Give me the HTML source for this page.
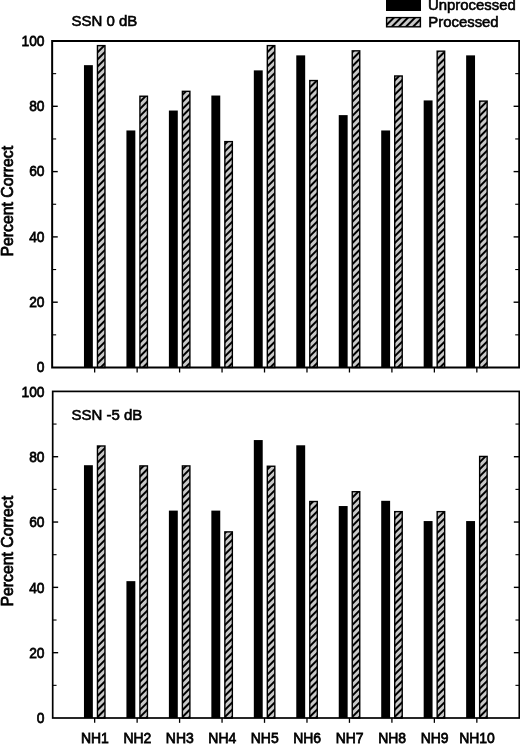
<!DOCTYPE html><html><head><meta charset="utf-8"><title>Percent Correct</title>
<style>html,body{margin:0;padding:0;background:#fff;}svg{display:block;}text{font-family:"Liberation Sans", Arial, Helvetica, sans-serif;fill:#000;stroke:#000;stroke-width:0.6px;}</style></head><body>
<svg width="520" height="744" viewBox="0 0 520 744">
<defs><pattern id="h" patternUnits="userSpaceOnUse" width="5" height="5" patternTransform="rotate(45)"><rect width="5" height="5" fill="#c8c8c8"/><rect x="0" y="0" width="2.0" height="5" fill="#000"/></pattern></defs>
<rect width="520" height="744" fill="#fff"/>
<rect x="83.96" y="65.16" width="8.90" height="302.34" fill="#000"/>
<rect x="97.46" y="45.62" width="7.50" height="321.88" fill="url(#h)" stroke="#000" stroke-width="1.4"/>
<rect x="126.43" y="130.46" width="8.90" height="237.04" fill="#000"/>
<rect x="139.93" y="96.23" width="7.50" height="271.27" fill="url(#h)" stroke="#000" stroke-width="1.4"/>
<rect x="168.89" y="110.54" width="8.90" height="256.96" fill="#000"/>
<rect x="182.39" y="91.33" width="7.50" height="276.17" fill="url(#h)" stroke="#000" stroke-width="1.4"/>
<rect x="211.35" y="95.53" width="8.90" height="271.97" fill="#000"/>
<rect x="224.85" y="141.61" width="7.50" height="225.89" fill="url(#h)" stroke="#000" stroke-width="1.4"/>
<rect x="253.82" y="70.38" width="8.90" height="297.12" fill="#000"/>
<rect x="267.32" y="45.62" width="7.50" height="321.88" fill="url(#h)" stroke="#000" stroke-width="1.4"/>
<rect x="296.28" y="55.37" width="8.90" height="312.13" fill="#000"/>
<rect x="309.78" y="80.55" width="7.50" height="286.95" fill="url(#h)" stroke="#000" stroke-width="1.4"/>
<rect x="338.75" y="115.12" width="8.90" height="252.38" fill="#000"/>
<rect x="352.25" y="50.84" width="7.50" height="316.66" fill="url(#h)" stroke="#000" stroke-width="1.4"/>
<rect x="381.21" y="130.46" width="8.90" height="237.04" fill="#000"/>
<rect x="394.71" y="75.98" width="7.50" height="291.52" fill="url(#h)" stroke="#000" stroke-width="1.4"/>
<rect x="423.67" y="100.42" width="8.90" height="267.08" fill="#000"/>
<rect x="437.17" y="51.17" width="7.50" height="316.33" fill="url(#h)" stroke="#000" stroke-width="1.4"/>
<rect x="466.14" y="55.37" width="8.90" height="312.13" fill="#000"/>
<rect x="479.64" y="101.12" width="7.50" height="266.38" fill="url(#h)" stroke="#000" stroke-width="1.4"/>
<rect x="52.15" y="41.00" width="467.05" height="326.50" fill="none" stroke="#000" stroke-width="2.00"/>
<line x1="52.15" y1="334.85" x2="56.15" y2="334.85" stroke="#000" stroke-width="1.10"/>
<line x1="519.20" y1="334.85" x2="515.20" y2="334.85" stroke="#000" stroke-width="1.10"/>
<line x1="52.15" y1="302.20" x2="57.75" y2="302.20" stroke="#000" stroke-width="1.40"/>
<line x1="519.20" y1="302.20" x2="513.60" y2="302.20" stroke="#000" stroke-width="1.40"/>
<line x1="52.15" y1="269.55" x2="56.15" y2="269.55" stroke="#000" stroke-width="1.10"/>
<line x1="519.20" y1="269.55" x2="515.20" y2="269.55" stroke="#000" stroke-width="1.10"/>
<line x1="52.15" y1="236.90" x2="57.75" y2="236.90" stroke="#000" stroke-width="1.40"/>
<line x1="519.20" y1="236.90" x2="513.60" y2="236.90" stroke="#000" stroke-width="1.40"/>
<line x1="52.15" y1="204.25" x2="56.15" y2="204.25" stroke="#000" stroke-width="1.10"/>
<line x1="519.20" y1="204.25" x2="515.20" y2="204.25" stroke="#000" stroke-width="1.10"/>
<line x1="52.15" y1="171.60" x2="57.75" y2="171.60" stroke="#000" stroke-width="1.40"/>
<line x1="519.20" y1="171.60" x2="513.60" y2="171.60" stroke="#000" stroke-width="1.40"/>
<line x1="52.15" y1="138.95" x2="56.15" y2="138.95" stroke="#000" stroke-width="1.10"/>
<line x1="519.20" y1="138.95" x2="515.20" y2="138.95" stroke="#000" stroke-width="1.10"/>
<line x1="52.15" y1="106.30" x2="57.75" y2="106.30" stroke="#000" stroke-width="1.40"/>
<line x1="519.20" y1="106.30" x2="513.60" y2="106.30" stroke="#000" stroke-width="1.40"/>
<line x1="52.15" y1="73.65" x2="56.15" y2="73.65" stroke="#000" stroke-width="1.10"/>
<line x1="519.20" y1="73.65" x2="515.20" y2="73.65" stroke="#000" stroke-width="1.10"/>
<line x1="94.66" y1="367.50" x2="94.66" y2="372.50" stroke="#000" stroke-width="1.3"/>
<line x1="137.13" y1="367.50" x2="137.13" y2="372.50" stroke="#000" stroke-width="1.3"/>
<line x1="179.59" y1="367.50" x2="179.59" y2="372.50" stroke="#000" stroke-width="1.3"/>
<line x1="222.05" y1="367.50" x2="222.05" y2="372.50" stroke="#000" stroke-width="1.3"/>
<line x1="264.52" y1="367.50" x2="264.52" y2="372.50" stroke="#000" stroke-width="1.3"/>
<line x1="306.98" y1="367.50" x2="306.98" y2="372.50" stroke="#000" stroke-width="1.3"/>
<line x1="349.45" y1="367.50" x2="349.45" y2="372.50" stroke="#000" stroke-width="1.3"/>
<line x1="391.91" y1="367.50" x2="391.91" y2="372.50" stroke="#000" stroke-width="1.3"/>
<line x1="434.37" y1="367.50" x2="434.37" y2="372.50" stroke="#000" stroke-width="1.3"/>
<line x1="476.84" y1="367.50" x2="476.84" y2="372.50" stroke="#000" stroke-width="1.3"/>
<text font-size="15" text-anchor="end" style="stroke-width:0.75px" transform="translate(44.5 372.10) scale(0.92 1.03)">0</text>
<text font-size="15" text-anchor="end" style="stroke-width:0.75px" transform="translate(44.5 306.80) scale(0.92 1.03)">20</text>
<text font-size="15" text-anchor="end" style="stroke-width:0.75px" transform="translate(44.5 241.50) scale(0.92 1.03)">40</text>
<text font-size="15" text-anchor="end" style="stroke-width:0.75px" transform="translate(44.5 176.20) scale(0.92 1.03)">60</text>
<text font-size="15" text-anchor="end" style="stroke-width:0.75px" transform="translate(44.5 110.90) scale(0.92 1.03)">80</text>
<text font-size="15" text-anchor="end" style="stroke-width:0.75px" transform="translate(44.5 45.60) scale(0.92 1.03)">100</text>
<text x="71.4" y="26.30" font-size="15.0">SSN 0 dB</text>
<text x="0" y="0" font-size="15.8" text-anchor="middle" style="stroke-width:0.75px" transform="translate(12.7 201.20) rotate(-90)">Percent Correct</text>
<rect x="83.96" y="465.21" width="8.90" height="252.79" fill="#000"/>
<rect x="97.46" y="445.99" width="7.50" height="272.01" fill="url(#h)" stroke="#000" stroke-width="1.4"/>
<rect x="126.43" y="581.15" width="8.90" height="136.85" fill="#000"/>
<rect x="139.93" y="465.91" width="7.50" height="252.09" fill="url(#h)" stroke="#000" stroke-width="1.4"/>
<rect x="168.89" y="510.61" width="8.90" height="207.39" fill="#000"/>
<rect x="182.39" y="465.91" width="7.50" height="252.09" fill="url(#h)" stroke="#000" stroke-width="1.4"/>
<rect x="211.35" y="510.61" width="8.90" height="207.39" fill="#000"/>
<rect x="224.85" y="531.88" width="7.50" height="186.12" fill="url(#h)" stroke="#000" stroke-width="1.4"/>
<rect x="253.82" y="440.06" width="8.90" height="277.94" fill="#000"/>
<rect x="267.32" y="466.24" width="7.50" height="251.76" fill="url(#h)" stroke="#000" stroke-width="1.4"/>
<rect x="296.28" y="445.29" width="8.90" height="272.71" fill="#000"/>
<rect x="309.78" y="501.51" width="7.50" height="216.49" fill="url(#h)" stroke="#000" stroke-width="1.4"/>
<rect x="338.75" y="506.04" width="8.90" height="211.96" fill="#000"/>
<rect x="352.25" y="491.71" width="7.50" height="226.29" fill="url(#h)" stroke="#000" stroke-width="1.4"/>
<rect x="381.21" y="500.81" width="8.90" height="217.19" fill="#000"/>
<rect x="394.71" y="511.64" width="7.50" height="206.36" fill="url(#h)" stroke="#000" stroke-width="1.4"/>
<rect x="423.67" y="521.06" width="8.90" height="196.94" fill="#000"/>
<rect x="437.17" y="511.64" width="7.50" height="206.36" fill="url(#h)" stroke="#000" stroke-width="1.4"/>
<rect x="466.14" y="521.06" width="8.90" height="196.94" fill="#000"/>
<rect x="479.64" y="456.44" width="7.50" height="261.56" fill="url(#h)" stroke="#000" stroke-width="1.4"/>
<rect x="52.70" y="391.40" width="466.60" height="326.60" fill="none" stroke="#000" stroke-width="1.70"/>
<line x1="52.70" y1="685.34" x2="56.55" y2="685.34" stroke="#000" stroke-width="1.10"/>
<line x1="519.30" y1="685.34" x2="515.45" y2="685.34" stroke="#000" stroke-width="1.10"/>
<line x1="52.70" y1="652.68" x2="58.15" y2="652.68" stroke="#000" stroke-width="1.40"/>
<line x1="519.30" y1="652.68" x2="513.85" y2="652.68" stroke="#000" stroke-width="1.40"/>
<line x1="52.70" y1="620.02" x2="56.55" y2="620.02" stroke="#000" stroke-width="1.10"/>
<line x1="519.30" y1="620.02" x2="515.45" y2="620.02" stroke="#000" stroke-width="1.10"/>
<line x1="52.70" y1="587.36" x2="58.15" y2="587.36" stroke="#000" stroke-width="1.40"/>
<line x1="519.30" y1="587.36" x2="513.85" y2="587.36" stroke="#000" stroke-width="1.40"/>
<line x1="52.70" y1="554.70" x2="56.55" y2="554.70" stroke="#000" stroke-width="1.10"/>
<line x1="519.30" y1="554.70" x2="515.45" y2="554.70" stroke="#000" stroke-width="1.10"/>
<line x1="52.70" y1="522.04" x2="58.15" y2="522.04" stroke="#000" stroke-width="1.40"/>
<line x1="519.30" y1="522.04" x2="513.85" y2="522.04" stroke="#000" stroke-width="1.40"/>
<line x1="52.70" y1="489.38" x2="56.55" y2="489.38" stroke="#000" stroke-width="1.10"/>
<line x1="519.30" y1="489.38" x2="515.45" y2="489.38" stroke="#000" stroke-width="1.10"/>
<line x1="52.70" y1="456.72" x2="58.15" y2="456.72" stroke="#000" stroke-width="1.40"/>
<line x1="519.30" y1="456.72" x2="513.85" y2="456.72" stroke="#000" stroke-width="1.40"/>
<line x1="52.70" y1="424.06" x2="56.55" y2="424.06" stroke="#000" stroke-width="1.10"/>
<line x1="519.30" y1="424.06" x2="515.45" y2="424.06" stroke="#000" stroke-width="1.10"/>
<line x1="94.66" y1="718.00" x2="94.66" y2="722.85" stroke="#000" stroke-width="1.3"/>
<line x1="137.13" y1="718.00" x2="137.13" y2="722.85" stroke="#000" stroke-width="1.3"/>
<line x1="179.59" y1="718.00" x2="179.59" y2="722.85" stroke="#000" stroke-width="1.3"/>
<line x1="222.05" y1="718.00" x2="222.05" y2="722.85" stroke="#000" stroke-width="1.3"/>
<line x1="264.52" y1="718.00" x2="264.52" y2="722.85" stroke="#000" stroke-width="1.3"/>
<line x1="306.98" y1="718.00" x2="306.98" y2="722.85" stroke="#000" stroke-width="1.3"/>
<line x1="349.45" y1="718.00" x2="349.45" y2="722.85" stroke="#000" stroke-width="1.3"/>
<line x1="391.91" y1="718.00" x2="391.91" y2="722.85" stroke="#000" stroke-width="1.3"/>
<line x1="434.37" y1="718.00" x2="434.37" y2="722.85" stroke="#000" stroke-width="1.3"/>
<line x1="476.84" y1="718.00" x2="476.84" y2="722.85" stroke="#000" stroke-width="1.3"/>
<text font-size="15" text-anchor="end" style="stroke-width:0.75px" transform="translate(44.5 723.20) scale(0.92 1.03)">0</text>
<text font-size="15" text-anchor="end" style="stroke-width:0.75px" transform="translate(44.5 657.88) scale(0.92 1.03)">20</text>
<text font-size="15" text-anchor="end" style="stroke-width:0.75px" transform="translate(44.5 592.56) scale(0.92 1.03)">40</text>
<text font-size="15" text-anchor="end" style="stroke-width:0.75px" transform="translate(44.5 527.24) scale(0.92 1.03)">60</text>
<text font-size="15" text-anchor="end" style="stroke-width:0.75px" transform="translate(44.5 461.92) scale(0.92 1.03)">80</text>
<text font-size="15" text-anchor="end" style="stroke-width:0.75px" transform="translate(44.5 396.60) scale(0.92 1.03)">100</text>
<text x="71.4" y="420.00" font-size="15.0">SSN -5 dB</text>
<text x="0" y="0" font-size="15.8" text-anchor="middle" style="stroke-width:0.75px" transform="translate(12.7 551.20) rotate(-90)">Percent Correct</text>
<text font-size="15" text-anchor="middle" style="stroke-width:0.75px" transform="translate(94.86 742.9) scale(0.93 1.02)">NH1</text>
<text font-size="15" text-anchor="middle" style="stroke-width:0.75px" transform="translate(137.33 742.9) scale(0.93 1.02)">NH2</text>
<text font-size="15" text-anchor="middle" style="stroke-width:0.75px" transform="translate(179.79 742.9) scale(0.93 1.02)">NH3</text>
<text font-size="15" text-anchor="middle" style="stroke-width:0.75px" transform="translate(222.25 742.9) scale(0.93 1.02)">NH4</text>
<text font-size="15" text-anchor="middle" style="stroke-width:0.75px" transform="translate(264.72 742.9) scale(0.93 1.02)">NH5</text>
<text font-size="15" text-anchor="middle" style="stroke-width:0.75px" transform="translate(307.18 742.9) scale(0.93 1.02)">NH6</text>
<text font-size="15" text-anchor="middle" style="stroke-width:0.75px" transform="translate(349.65 742.9) scale(0.93 1.02)">NH7</text>
<text font-size="15" text-anchor="middle" style="stroke-width:0.75px" transform="translate(392.11 742.9) scale(0.93 1.02)">NH8</text>
<text font-size="15" text-anchor="middle" style="stroke-width:0.75px" transform="translate(434.57 742.9) scale(0.93 1.02)">NH9</text>
<text font-size="15" text-anchor="middle" style="stroke-width:0.75px" transform="translate(477.04 742.9) scale(0.93 1.02)">NH10</text>
<rect x="386" y="-1" width="35" height="12" fill="#000"/>
<rect x="386.6" y="17.6" width="33.8" height="9.2" fill="url(#h)" stroke="#000" stroke-width="1.4"/>
<text x="428" y="9.6" font-size="14.9">Unprocessed</text>
<text x="428.3" y="26.9" font-size="14.9">Processed</text>
</svg></body></html>
